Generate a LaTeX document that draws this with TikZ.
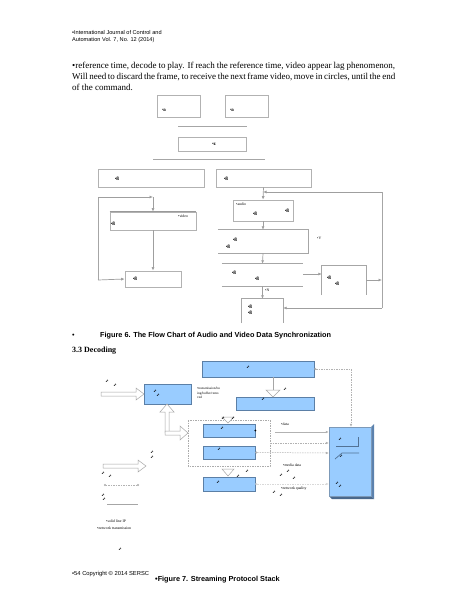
\documentclass[tikz,border=0pt]{standalone}
\usepackage{fontspec}
\setmainfont{Liberation Serif}
\newfontfamily\sansf{Liberation Sans}
\usetikzlibrary{arrows.meta}
\definecolor{boxblue}{HTML}{99CCFF}
\definecolor{boxedge}{HTML}{5B7FA6}
\definecolor{boxshade}{HTML}{5C82AE}
\newcommand{\gm}[1]{{\fontsize{5}{5}\selectfont\textbullet\kern-0.4pt\textbf{#1}}}
\tikzset{
  flowbox/.style={draw=gray!60, line width=0.7pt, fill=white, inner sep=0pt},
  openbox/.style={inner sep=0pt},
  rule/.style={draw=gray!70, line width=0.7pt},
  conn/.style={draw=gray!75, line width=0.7pt, -{Latex[length=3.5pt,width=3pt]}},
  bluebox/.style={draw=boxedge, line width=0.6pt, fill=boxblue, inner sep=0pt},
  dconn/.style={draw=gray!60, line width=0.5pt, dashed, dash pattern=on 1.5pt off 1pt, {Circle[length=2pt]}-{Latex[length=3pt,width=2.6pt]}},
  hollow/.style={draw=gray!70, line width=0.5pt, fill=white},
  mk/.style={inner sep=0pt, text=black},
  tiny/.style={inner sep=0pt, font=\fontsize{3.8}{4}\selectfont, anchor=west},
  bodyline/.style={anchor=base west, inner sep=0pt, font=\fontsize{9}{10.6}\selectfont},
}
\begin{document}
\begin{tikzpicture}[x=1pt,y=-1pt]
\useasboundingbox[fill=white] (0,0) rectangle (474,613);
% ---------- header and body text
\node[anchor=west, inner sep=0pt, font=\sansf\fontsize{5.6}{6.5}\selectfont] (hd1) at (72,32) {•International Journal of Control and};
\node[anchor=west, inner sep=0pt, font=\sansf\fontsize{5.6}{6.5}\selectfont] (hd2) at (72,40) {Automation Vol. 7, No. 12 (2014)};
\node[bodyline] (body1) at (72,68.8) {\makebox[323pt][s]{•reference time, decode to play. If reach the reference time, video appear lag phenomenon,}};
\node[bodyline] (body2) at (72,79.4) {\makebox[323pt][s]{Will need to discard the frame, to receive the next frame video, move in circles, until the end}};
\node[bodyline] (body3) at (72,90) {of the command.};
% ---------- Figure 6 flowchart
\node[flowbox, minimum width=43pt, minimum height=22pt] (A) at (178.5,106) {};
\node[flowbox, minimum width=43pt, minimum height=22pt] (B) at (246.5,106) {};
\draw[rule] (178,126) -- (247,126);
\node[flowbox, minimum width=68pt, minimum height=14pt] (C) at (212,144) {};
\draw[rule] (153,159) -- (265,159);
\node[flowbox, minimum width=106pt, minimum height=18pt] (D) at (151,178) {};
\node[flowbox, minimum width=95pt, minimum height=18pt] (E) at (263.5,178) {};
\node[flowbox, minimum width=86pt, minimum height=18pt] (F) at (153,221) {};
\draw[gray!80, line width=1pt] (F.north west) -- (F.north east);
\node[flowbox, minimum width=56pt, minimum height=16pt] (G) at (153,279) {};
\node[flowbox, minimum width=60pt, minimum height=21pt] (H) at (263,210.5) {};
% open box I (no left side)
\node[openbox, minimum width=90pt, minimum height=23pt] (I) at (263,241.5) {};
\draw[rule] (I.north west) -- (I.north east) -- (I.south east) -- (I.south west);
% two-rule box L
\node[openbox, minimum width=81pt, minimum height=22pt] (L) at (262.5,275) {};
\draw[rule] (L.north west) -- (L.north east);
\draw[rule] (L.south west) -- (L.south east);
% open-bottom boxes J and K
\node[openbox, minimum width=44pt, minimum height=29pt] (J) at (344,280.5) {};
\draw[rule] (J.south west) -- (J.north west) -- (J.north east) -- (J.south east);
\node[openbox, minimum width=41pt, minimum height=24pt] (K) at (262.5,311) {};
\draw[rule] (K.south west) -- (K.north west) -- (K.north east) -- (K.south east);
% connectors
\coordinate (lp1) at (98,197); \coordinate (lp2) at (153,197); \coordinate (lp3) at (98,280);
\draw[rule] (lp3) -- (lp1);
\draw[conn] (lp1) -- (lp2);
\draw[conn] (lp2) -- (F.north);
\draw[conn] (lp3) -- (G.west);
\draw[conn] (F.south) -- (G.north);
\coordinate (rj) at (263,192); \coordinate (rc1) at (382,192); \coordinate (rc2) at (382,308); \coordinate (rj2) at (382,280);
\draw[conn] (E.south) -- (H.north);
\draw[conn] (rc1) -- (rj);
\draw[rule] (rc1) -- (rc2);
\draw[conn] (rc2) -- (K.east |- rc2);
\draw[conn] (J.east |- rj2) -- (rj2);
\draw[conn] (H.south) -- (I.north);
\draw[conn] (I.south) -- (L.north);
\draw[conn] (L.east |- 0,274) -- (J.west |- 0,274);
\draw[conn] (L.south) -- (K.north);
% marks in flowchart
\node[mk] (mA) at (164,110) {\gm{a}};
\node[mk] (mB) at (232,110) {\gm{a}};
\node[mk] (mC) at (214,144) {\gm{z}};
\node[mk] (mD) at (117,179) {\gm{ß}};
\node[mk] (mE) at (226,179) {\gm{ß}};
\node[tiny] (tvid) at (178,216) {•video};
\node[mk] (mF) at (113,224) {\gm{ß}};
\node[mk] (mG) at (135,279) {\gm{ß}};
\node[tiny] (taud) at (236,204) {•audio};
\node[mk] (mH1) at (255,214) {\gm{ß}};
\node[mk] (mH2) at (287,211) {\gm{ß}};
\node[mk] (mI1) at (235,240) {\gm{ß}};
\node[mk] (mI2) at (228,247) {\gm{ß}};
\node[tiny] (tV) at (317,238) {•V};
\node[mk] (mL1) at (234,273) {\gm{ß}};
\node[mk] (mL2) at (257,279) {\gm{ß}};
\node[tiny] (tN) at (265,290) {•N};
\node[mk] (mJ1) at (329,278) {\gm{ß}};
\node[mk] (mJ2) at (337,284) {\gm{ß}};
\node[mk] (mK1) at (250,307) {\gm{ß}};
\node[mk] (mK2) at (250,313) {\gm{ß}};
% captions
\node[anchor=west, inner sep=0pt, font=\sansf\fontsize{7.2}{8}\selectfont] (b6) at (72,336) {•};
\node[anchor=west, inner sep=0pt, font=\sansf\bfseries\fontsize{7.3}{8}\selectfont] (cap6) at (100,336) {Figure 6. The Flow Chart of Audio and Video Data Synchronization};
\node[anchor=west, inner sep=0pt, font=\bfseries\fontsize{8}{9}\selectfont] (sec) at (72,351) {3.3 Decoding};
% ---------- Figure 7
\node[bluebox, minimum width=112pt, minimum height=16pt] (P1) at (258,369) {};
\node[bluebox, minimum width=47pt, minimum height=20pt] (P2) at (167.5,394) {};
\node[bluebox, minimum width=78pt, minimum height=13pt] (P3) at (275,403.5) {};
\draw[gray!65, line width=0.6pt, dashed, dash pattern=on 1.5pt off 1pt] (188,420) rectangle (270,466);
\node[bluebox, minimum width=52pt, minimum height=13pt] (Q1) at (229,430.5) {};
\node[bluebox, minimum width=52pt, minimum height=13pt] (Q2) at (229,452.5) {};
\node[bluebox, minimum width=52pt, minimum height=14pt] (Q3) at (229,484) {};
% 3D box R
\fill[boxshade] (371,427) -- (374,424) -- (374,499) -- (371,496) -- cycle;
\fill[boxshade!80!black] (329,496) -- (332,499) -- (374,499) -- (371,496) -- cycle;
\node[draw=boxedge!80, line width=0.4pt, fill=boxblue, inner sep=0pt, minimum width=42pt, minimum height=69pt] (R) at (350,461.5) {};
\draw[boxedge!90!black, line width=0.7pt] (336,446) -- (358,446) -- (358,437);
\draw[boxedge!90!black, line width=0.7pt] (335,459) -- (342,453) -- (359,453);
% hollow arrows
\draw[hollow] (101,392) -- (136,392) -- (136,388) -- (144,394) -- (136,400) -- (136,396) -- (101,396) -- cycle;
\draw[hollow] (165,433) -- (165,412) -- (160,412) -- (167,404) -- (174,412) -- (169,412) -- (169,433) -- cycle;
\draw[hollow] (165,431) -- (180,431) -- (180,426) -- (188,433) -- (180,440) -- (180,435) -- (165,435) -- cycle;
\draw[gray!70, line width=0.6pt] (273,377) -- (273,390);
\draw[hollow] (266,390) -- (280,390) -- (273,397) -- cycle;
\draw[hollow] (222,417) -- (234,417) -- (228,423) -- cycle;
\draw[hollow] (222,469) -- (234,469) -- (228,476) -- cycle;
\draw[hollow] (103,464) -- (138,464) -- (138,460) -- (146,466) -- (138,472) -- (138,468) -- (103,468) -- cycle;
% connectors to R
\coordinate (pr1) at (351,369);
\draw[gray!60, line width=0.5pt, dashed, dash pattern=on 1.5pt off 1pt, {Circle[length=2pt]}-] (P1.east) -- (pr1);
\draw[gray!60, line width=0.5pt, dashed, dash pattern=on 1.5pt off 1pt, -{Latex[length=3pt,width=2.6pt]}] (pr1) -- (R.north -| pr1);
\coordinate (s1) at (275,432);
\coordinate (s2) at (270,443);
\draw[gray!60, line width=0.9pt, -{Latex[length=3pt,width=2.6pt]}] (s1) -- (R.west |- s1);
\draw[dconn, {}-{Latex[length=3pt,width=2.6pt]}] (s2) -- (R.west |- s2);
\draw[dconn] (Q2.east) -- (R.west |- 0,453);
\draw[dconn, draw=gray!30] (Q3.east) -- (R.west |- Q3.east);
\fill (Q1.east) circle (1pt);
% left legend
\coordinate (lg1) at (104,485); \coordinate (lg2) at (139,485);
\draw[gray!60, line width=0.5pt, dashed, dash pattern=on 1.5pt off 1pt, {Circle[length=2pt]}-{Circle[length=2pt]}] (lg1) -- (lg2);
\coordinate (lg3) at (107,504); \coordinate (lg4) at (138,504);
\draw[gray!70, line width=0.5pt] (lg3) -- (lg4);
\node[tiny] (tsl) at (106,521) {•solid line IP};
\node[tiny] (tnt) at (97,528) {•network transmission};
% texts fig 7
\node[tiny, align=left, font=\fontsize{3.4}{4.6}\selectfont, anchor=north west] (ttb) at (197,387) {•transmission/bu\\ ing/buffer/remo\\ ved};
\node[tiny] (tdata) at (281,424) {•data};
\node[tiny] (tmed) at (283,465) {•media data};
\node[tiny] (tnq) at (281,489) {•network quality};
% marks fig 7
\node[mk] (n1) at (248,368) {\gm{ª}};
\node[mk] (n2) at (155,392) {\gm{ª}};
\node[mk] (n3) at (158,396) {\gm{ª}};
\node[mk] (n4) at (107,382) {\gm{ª}};
\node[mk] (n5) at (115,386) {\gm{ª}};
\node[mk] (n6) at (263,400) {\gm{ª}};
\node[mk] (n7) at (285,390) {\gm{ª}};
\node[mk] (n8) at (222,429) {\gm{ª}};
\node[mk] (n9) at (219,450) {\gm{ª}};
\node[mk] (n10) at (218,483) {\gm{ª}};
\node[mk] (n11) at (223,419) {\gm{ª}};
\node[mk] (n12) at (233,419) {\gm{ª}};
\node[mk] (n13) at (238,477) {\gm{ª}};
\node[mk] (n14) at (247,472) {\gm{ª}};
\node[mk] (n15) at (152,453) {\gm{ª}};
\node[mk] (n16) at (152,458) {\gm{ª}};
\node[mk] (n17) at (103,474) {\gm{ª}};
\node[mk] (n18) at (110,477) {\gm{ª}};
\node[mk] (n19) at (103,496) {\gm{ª}};
\node[mk] (n20) at (104,500) {\gm{ª}};
\node[mk] (n21) at (120,550) {\gm{ª}};
\node[mk] (n22) at (288,472) {\gm{ª}};
\node[mk] (n23) at (281,476) {\gm{ª}};
\node[mk] (n24) at (294,479) {\gm{ª}};
\node[mk] (n25) at (274,493) {\gm{ª}};
\node[mk] (n26) at (281,496) {\gm{ª}};
\node[mk] (n27) at (340,440) {\gm{ª}};
\node[mk] (n28) at (341,457) {\gm{ª}};
\node[mk] (n29) at (337,484) {\gm{ª}};
\node[mk] (n30) at (340,487) {\gm{ª}};
% footer
\node[anchor=west, inner sep=0pt, font=\sansf\fontsize{5.8}{6.5}\selectfont] (foot) at (72,574) {•54 Copyright © 2014 SERSC};
\node[anchor=west, inner sep=0pt, font=\sansf\bfseries\fontsize{7.3}{8}\selectfont] (cap7) at (155,580) {•Figure 7. Streaming Protocol Stack};
\end{tikzpicture}
\end{document}
